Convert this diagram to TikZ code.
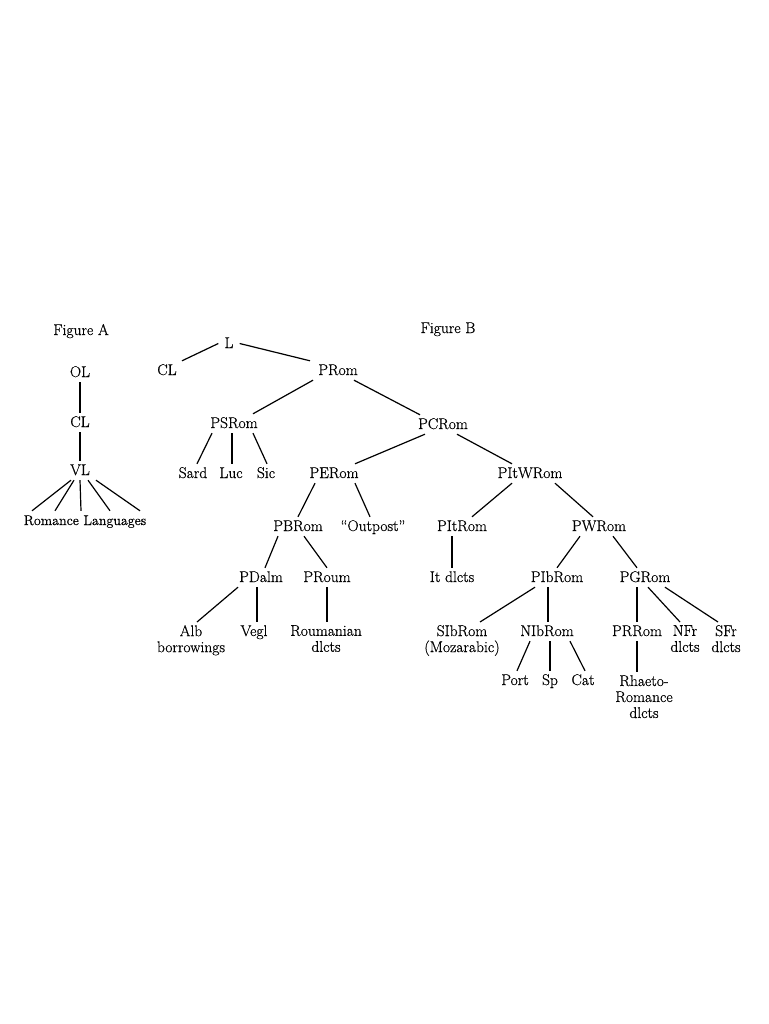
\documentclass[tikz,border=0pt]{standalone}
\usepackage{fontspec}
\setmainfont{Latin Modern Roman}[FakeBold=0.6]
\usepackage{tikz}

\begin{document}
\begin{tikzpicture}[x=1pt, y=-1pt,
  lang/.style={font=\fontsize{15.5}{16}\selectfont, text height=11pt, text depth=2pt, inner xsep=1pt, inner ysep=3pt, anchor=base},
  lang2/.style={font=\fontsize{15.5}{16}\selectfont, align=center, inner xsep=1pt, inner ysep=3pt, anchor=north},
  br/.style={line width=1.2pt}
]
  \useasboundingbox (0,0) rectangle (768,1024);

  % Figure A
  \node[lang] (figa) at (81,335) {Figure A};
  \node[lang] (ol) at (80,377) {OL};
  \node[lang] (cla) at (80,427) {CL};
  \node[lang] (vl) at (80,475) {VL};
  \node[lang, font=\fontsize{14}{16}\selectfont] (rom) at (85,525) {Romance Languages};
  \draw[br] (ol) -- (cla);
  \draw[br] (cla) -- (vl);
  \foreach \s/\e in {-9/-53, -6/-30, 0/-4, 8/25, 16/55}
    \draw[br] ([xshift=\s pt]vl.south) -- ([xshift=\e pt]rom.north);

  % Figure B
  \node[lang] (figb) at (448,333) {Figure B};
  \node[lang] (l) at (229,348) {L};
  \node[lang] (clb) at (167,375) {CL};
  \node[lang] (prom) at (338,375) {PRom};
  \node[lang] (psrom) at (234,428) {PSRom};
  \node[lang] (pcrom) at (443,429) {PCRom};
  \node[lang] (sard) at (193,478) {Sard};
  \node[lang] (luc) at (231,478) {Luc};
  \node[lang] (sic) at (266,478) {Sic};
  \node[lang] (perom) at (334,478) {PERom};
  \node[lang] (pitwrom) at (530,478) {PItWRom};
  \node[lang] (pbrom) at (298,531) {PBRom};
  \node[lang] (outpost) at (373,531) {“Outpost”};
  \node[lang] (pitrom) at (462,531) {PItRom};
  \node[lang] (pwrom) at (599,531) {PWRom};
  \node[lang] (pdalm) at (261,582) {PDalm};
  \node[lang] (proum) at (327,582) {PRoum};
  \node[lang] (itdlcts) at (452,582) {It dlcts};
  \node[lang] (pibrom) at (557,582) {PIbRom};
  \node[lang] (pgrom) at (645,582) {PGRom};
  \node[lang2] (alb) at (191,622) {Alb\\borrowings};
  \node[lang] (vegl) at (254,636) {Vegl};
  \node[lang2] (roum) at (326,622) {Roumanian\\dlcts};
  \node[lang2] (sibrom) at (462,622) {SIbRom\\(Mozarabic)};
  \node[lang] (nibrom) at (547,636) {NIbRom};
  \node[lang] (prrom) at (637,636) {PRRom};
  \node[lang2] (nfr) at (685,622) {NFr\\dlcts};
  \node[lang2] (sfr) at (726,622) {SFr\\dlcts};
  \node[lang] (port) at (515,685) {Port};
  \node[lang] (sp) at (550,685) {Sp};
  \node[lang] (cat) at (583,685) {Cat};
  \node[lang2] (rhaeto) at (644,672) {Rhaeto-\\Romance\\dlcts};

  \draw[br] ([xshift=-5pt]l.west) -- ([xshift=15pt]clb.north);
  \draw[br] ([xshift=5pt]l.east) -- ([xshift=-28pt]prom.north);
  \foreach \p/\c/\a/\b in {prom/psrom/-25/19, prom/pcrom/16/-23,
      psrom/sard/-22/4, psrom/luc/-2/1, psrom/sic/19/1,
      pcrom/perom/-18/21, pcrom/pitwrom/14/-18,
      perom/pbrom/-19/0, perom/outpost/21/-3,
      pitwrom/pitrom/-18/10, pitwrom/pwrom/25/-6,
      pbrom/pdalm/-20/4, pbrom/proum/6/0,
      pitrom/itdlcts/-10/0,
      pwrom/pibrom/-19/0, pwrom/pgrom/14/-8,
      pdalm/alb/-23/6, pdalm/vegl/-4/3, proum/roum/0/1,
      pibrom/sibrom/-22/18, pibrom/nibrom/-9/1,
      pgrom/prrom/-8/0, pgrom/nfr/3/-5, pgrom/sfr/20/-8,
      nibrom/port/-17/2, nibrom/sp/3/0, nibrom/cat/23/2,
      prrom/rhaeto/0/-7}
    \draw[br] ([xshift=\a pt]\p.south) -- ([xshift=\b pt]\c.north);
\end{tikzpicture}
\end{document}
